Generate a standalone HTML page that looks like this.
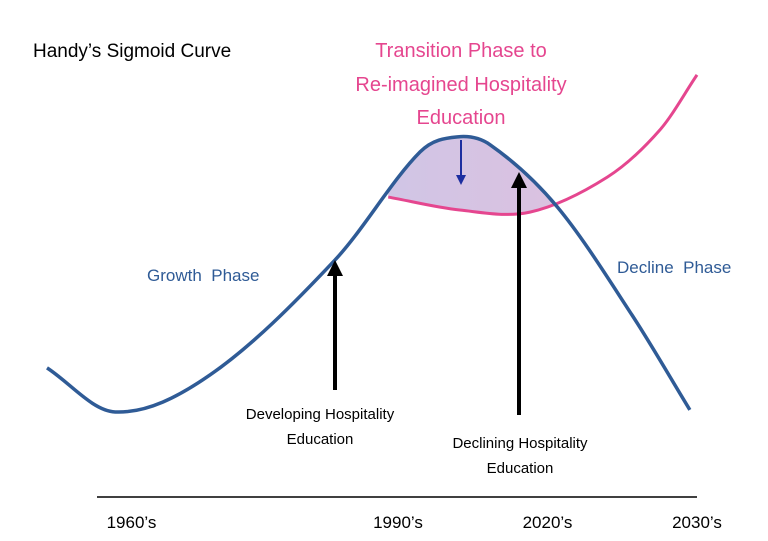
<!DOCTYPE html>
<html><head><meta charset="utf-8"><style>
body{margin:0;background:#fff;}
svg{display:block;font-family:"Liberation Sans",sans-serif;}
text{white-space:pre;}
</style></head><body>
<svg id="chart" width="768" height="541" viewBox="0 0 768 541">
<defs>
<linearGradient id="fillGrad" x1="0" y1="0" x2="1" y2="0">
<stop offset="0" stop-color="#e8c2e0"/><stop offset="0.5" stop-color="#cfc6e6"/><stop offset="1" stop-color="#e3bedc"/>
</linearGradient>
<marker id="ahBlack" markerWidth="4" markerHeight="4" refX="2" refY="2" orient="auto" markerUnits="strokeWidth"><path d="M0,0 L4,2 L0,4 z" fill="#000"/></marker>
<marker id="ahBlue" markerWidth="5" markerHeight="5" refX="2.5" refY="2.5" orient="auto" markerUnits="strokeWidth"><path d="M0,0 L5,2.5 L0,5 z" fill="#1c2ea0"/></marker>
</defs>
<g id="layer"></g>
<text x="33" y="57" font-size="19" fill="#000">Handy’s Sigmoid Curve</text>
<g fill="#e5468f" font-size="20" text-anchor="middle">
<text x="461" y="57">Transition Phase to</text>
<text x="461" y="91">Re-imagined Hospitality</text>
<text x="461" y="124">Education</text>
</g>
<text x="147" y="281" font-size="17" fill="#2f5b96" xml:space="preserve">Growth  Phase</text>
<text x="617" y="273" font-size="17" fill="#2f5b96" xml:space="preserve">Decline  Phase</text>
<g font-size="15" text-anchor="middle" fill="#000">
<text x="320" y="419">Developing Hospitality</text><text x="320" y="444">Education</text></g>
<g font-size="15" text-anchor="middle" fill="#000">
<text x="520" y="448">Declining Hospitality</text><text x="520" y="473">Education</text></g>
<line x1="97" y1="497" x2="697" y2="497" stroke="#000" stroke-width="1.5"/>
<g id="ticks" font-size="17" text-anchor="middle" fill="#000"></g>
</svg>
<script>
const blueT=[0,10.5,25.1,44.3,57.4,63.2,68.2,78.5,90,98.9];
const blueV=[14.9,2.3,12.9,45.7,76.6,80.9,78.6,60.9,30,2.9];
const pinkT=[52.5,63.5,74.3,86.2,94.3,100];
const pinkV=[63.7,60,59.4,69.4,82.9,98.6];
const tickLabels=["1960’s","1990’s","2020’s","2030’s"];
const tickT=[13,54,77,100];
const xS=t=>47+t*6.5, yS=v=>420-v*3.5;
const NS="http://www.w3.org/2000/svg";
function pathD(T,V){
  const p=T.map((t,i)=>[xS(t),yS(V[i])]);
  const n=p.length, m=[];
  for(let i=0;i<n;i++){
    const a=p[Math.max(0,i-1)], b=p[Math.min(n-1,i+1)];
    m.push((b[1]-a[1])/(b[0]-a[0]));
  }
  let d="M"+p[0][0]+","+p[0][1];
  for(let i=0;i<n-1;i++){
    const dx=(p[i+1][0]-p[i][0])/3;
    d+=` C${p[i][0]+dx},${p[i][1]+m[i]*dx} ${p[i+1][0]-dx},${p[i+1][1]-m[i+1]*dx} ${p[i+1][0]},${p[i+1][1]}`;
  }
  return d;
}
const layer=document.getElementById('layer');
const defs=document.querySelector('defs');
const bd=pathD(blueT,blueV), pd=pathD(pinkT,pinkV);
const cp=document.createElementNS(NS,'clipPath');cp.setAttribute('id','abovePink');
const cpp=document.createElementNS(NS,'path');
cpp.setAttribute('d',pd+` L${xS(pinkT[pinkT.length-1])},0 L${xS(pinkT[0])},0 Z`);
cp.appendChild(cpp);defs.appendChild(cp);
const fill=document.createElementNS(NS,'path');
fill.setAttribute('d',bd+` L${xS(blueT[blueT.length-1])},541 L${xS(blueT[0])},541 Z`);
fill.setAttribute('fill','url(#fillGrad)');fill.setAttribute('clip-path','url(#abovePink)');


layer.appendChild(fill);
const pink=document.createElementNS(NS,'path');
pink.setAttribute('d',pd);pink.setAttribute('fill','none');pink.setAttribute('stroke','#e5468f');pink.setAttribute('stroke-width','3');


layer.appendChild(pink);
const blue=document.createElementNS(NS,'path');
blue.setAttribute('d',bd);blue.setAttribute('fill','none');blue.setAttribute('stroke','#2f5b96');blue.setAttribute('stroke-width','3.5');


layer.appendChild(blue);
function arrow(x1,y1,x2,y2,c,w,m,name){
  const l=document.createElementNS(NS,'line');
  l.setAttribute('x1',x1);l.setAttribute('y1',y1);l.setAttribute('x2',x2);l.setAttribute('y2',y2);
  l.setAttribute('stroke',c);l.setAttribute('stroke-width',w);l.setAttribute('marker-end',m);
  
  
  layer.appendChild(l);
}
arrow(335,390,335,268,'#000',4,'url(#ahBlack)','developing-arrow');
arrow(519,415,519,180,'#000',4,'url(#ahBlack)','declining-arrow');
arrow(461,140,461,180,'#1c2ea0',2,'url(#ahBlue)','transition-arrow');
const tg=document.getElementById('ticks');
tickLabels.forEach((s,i)=>{
  const t=document.createElementNS(NS,'text');
  t.setAttribute('x',xS(tickT[i]));t.setAttribute('y',528);t.textContent=s;
  
  
  tg.appendChild(t);
});
</script>
</body></html>
